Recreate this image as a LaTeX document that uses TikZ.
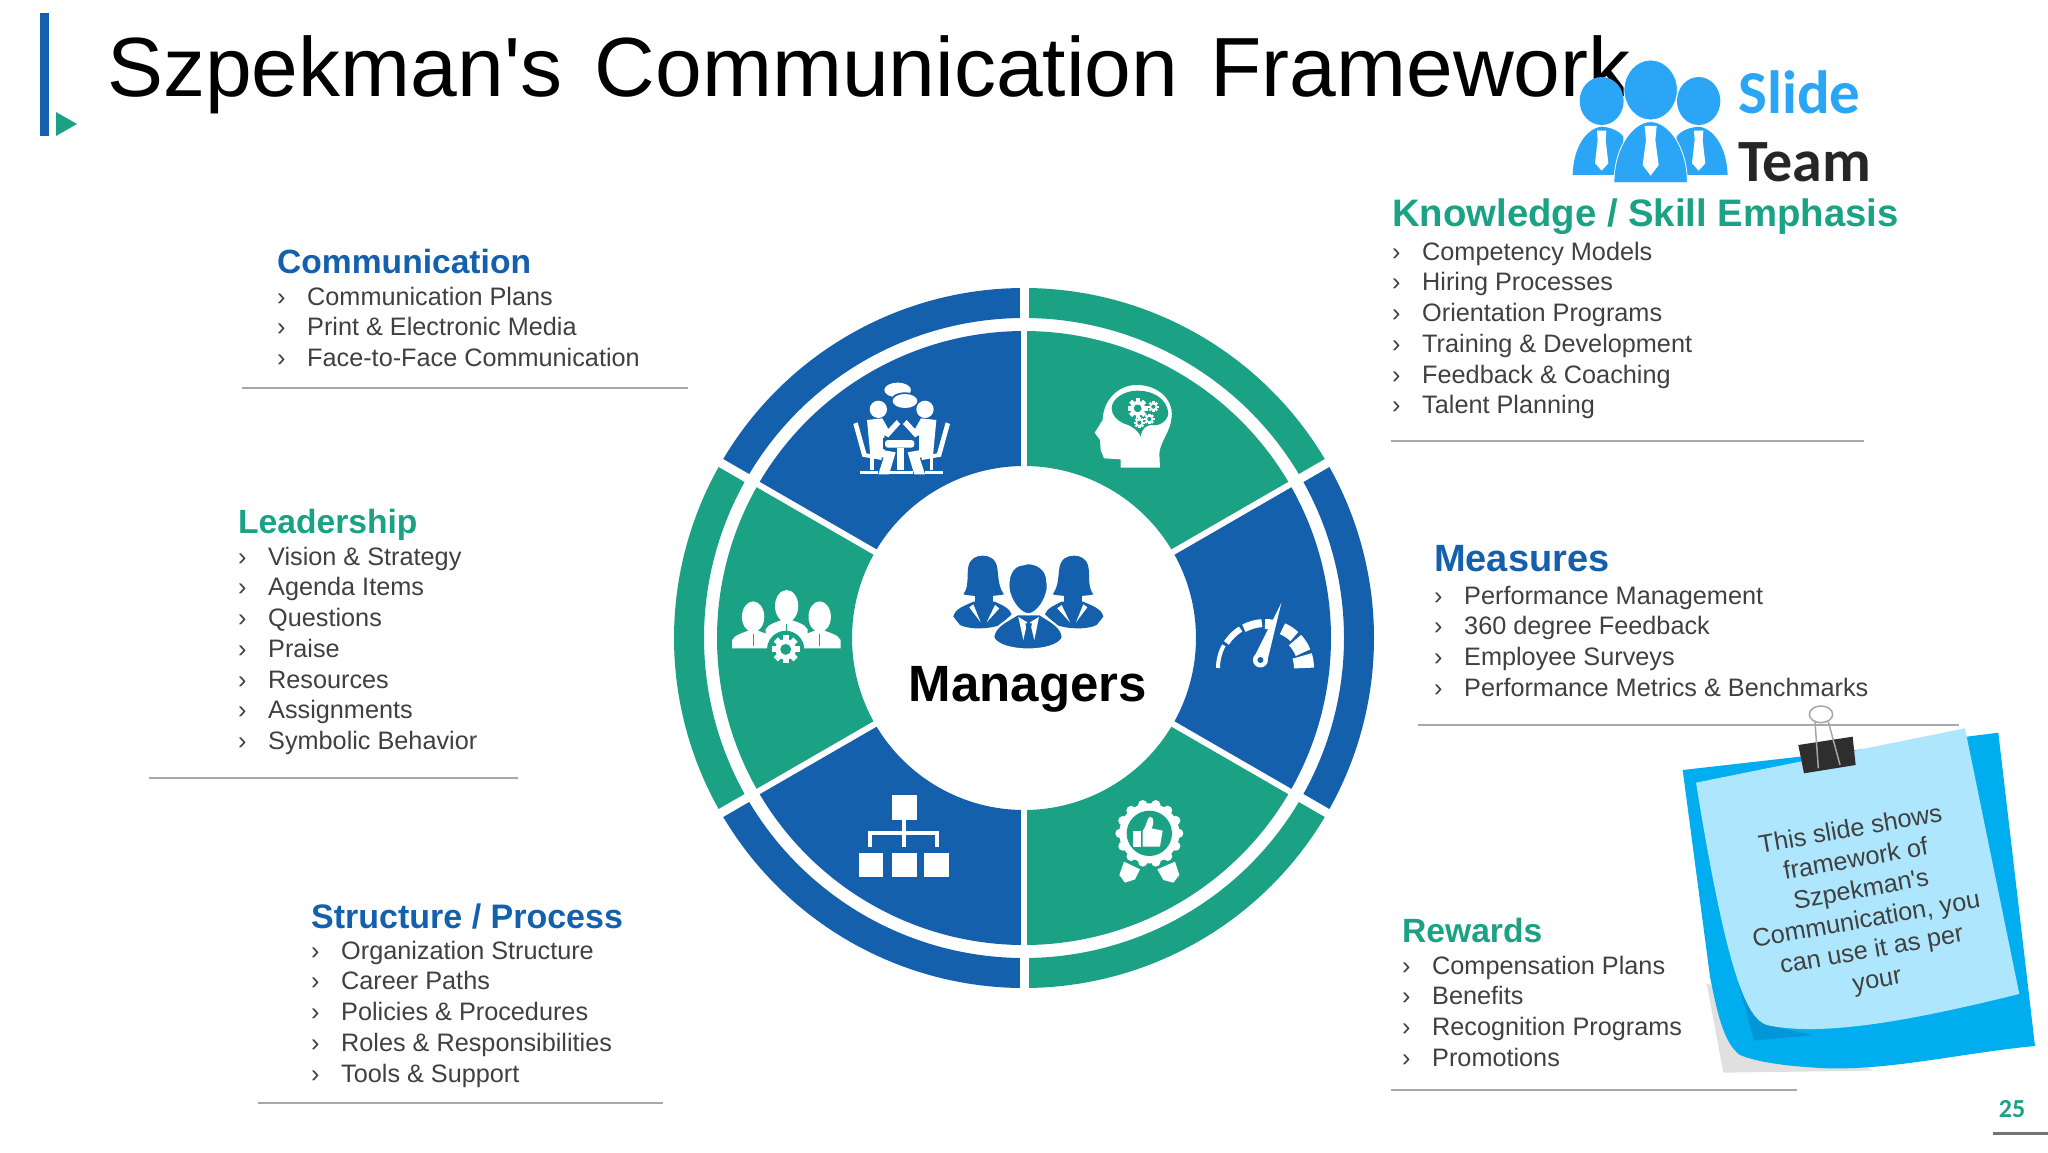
\documentclass[tikz,border=0pt]{standalone}
\usepackage{fontspec}
\setmainfont{Liberation Sans}
\newfontfamily\logofont{Carlito}
\usetikzlibrary{positioning}
\definecolor{brandblue}{HTML}{1560AC}
\definecolor{brandgreen}{HTML}{1BA284}
\definecolor{itemgrey}{HTML}{404040}
\definecolor{rulegrey}{HTML}{A8A8A8}
\definecolor{logoblue}{HTML}{2BA6F7}
\definecolor{noteback}{HTML}{00AEEF}
\definecolor{notesheet}{HTML}{AEE6FD}
\definecolor{notefold}{HTML}{0097D8}
\tikzset{
	blockhead/.style={anchor=base west,inner sep=0pt,font=\bfseries\fontsize{33.6}{40}\selectfont},
	itemlist/.style={anchor=north west,inner sep=0pt,align=left,text=itemgrey,font=\fontsize{25.25}{30.7}\selectfont},
	blockrule/.style={draw=rulegrey,line width=1.2pt},
	icongrid/.style n args={3}{shift={(#1,-#2)},x=#3pt,y=-#3pt}
}
\newcommand{\li}[1]{\rule{0pt}{20pt}\makebox[30pt][l]{›}#1}
\newcommand{\gearat}[5]{%
	\foreach \k in {0,45,...,315}{
		\fill[#4,shift={(#1,#2)},rotate=\k] ({-.25*#3},{.7*#3}) rectangle ({.25*#3},{1.15*#3});
	}
	\fill[#4] (#1,#2) circle ({.85*#3});
	\fill[#5] (#1,#2) circle ({.45*#3});
}
\newcommand{\sitter}{%
	\fill[white] (100,103) circle (26);
	\fill[white] (66,135) -- (112,130) -- (130,162) -- (155,135) -- (166,147) -- (130,187) -- (118,180) -- (118,226) -- (152,232) -- (132,298) -- (100,298) -- (116,248) -- (76,242) -- cycle;
	\fill[white] (25,147) -- (38,142) -- (64,235) -- (110,245) -- (110,255) -- (52,245) -- cycle;
	\fill[white] (76,250) rectangle (86,285);
	\fill[white] (45,288) rectangle (100,296);
}
\newcommand{\womanbust}{%
	\fill[brandblue] (70,148) .. controls (88,125) and (80,90) .. (85,65) .. controls (90,40) and (110,32) .. (128,32) .. controls (150,32) and (168,42) .. (172,70) .. controls (176,100) and (175,125) .. (192,148) .. controls (165,155) and (95,155) .. cycle;
	\fill[brandblue] (105,148) rectangle (158,175);
	\fill[brandblue] (40,215) .. controls (45,190) and (75,182) .. (100,170) -- (165,170) .. controls (185,180) and (210,190) .. (215,208) -- (180,240) .. controls (150,252) and (90,255) .. (60,240) -- cycle;
	\fill[white] (88,187) -- (100,178) -- (122,232) -- cycle;
	\fill[white] (165,180) -- (178,190) -- (140,232) -- cycle;
}
\newcommand{\teambust}[3]{%
	\fill[white] (#1,#2) ellipse (#3 and {#3*1.38});
	\fill[white] ({#1-45},{#2+68}) -- ({#1-45},{#2+50}) .. controls ({#1-40},{#2+38}) and ({#1-20},{#2+34}) .. (#1,{#2+26}) .. controls ({#1+20},{#2+34}) and ({#1+40},{#2+38}) .. ({#1+45},{#2+50}) -- ({#1+45},{#2+68}) -- cycle;
	\draw[brandgreen,line width=1.2pt] (#1,{#2+38}) -- (#1,{#2+62});
}
\begin{document}
\begin{tikzpicture}[x=1pt,y=1pt]
	\useasboundingbox (0,0) rectangle (2048,-1152);
	\fill[white] (0,0) rectangle (2048,-1152);
	% title bar
	\fill[brandblue] (40,-13) rectangle (49,-136);
	\fill[brandgreen] (56,-112) -- (77,-124) -- (56,-136) -- cycle;
	\node[anchor=base west,inner sep=0pt,font=\fontsize{84}{90}\selectfont] (title) at (107,-96) {Szpekman\textquotesingle s\hspace{9.5pt} Communication\hspace{9pt} Framework};
	% ring
	\begin{scope}[shift={(1024,-638)}]
		\foreach \a/\col in {90/brandblue,30/brandgreen,-30/brandblue,-90/brandgreen,-150/brandblue,150/brandgreen}{
			\fill[\col] (\a:350) arc (\a:\a+60:350) -- (\a+60:320) arc (\a+60:\a:320) -- cycle;
			\fill[\col] (\a:307) arc (\a:\a+60:307) -- (\a+60:172) arc (\a+60:\a:172) -- cycle;
		}
		\foreach \a in {30,90,...,330}{
			\draw[white,line width=9pt] (\a:314) -- (\a:356);
			\draw[white,line width=6pt] (\a:165) -- (\a:312);
		}
	\end{scope}
	% managers
	\begin{scope}[icongrid={940}{545}{0.3333}]
		\womanbust
		\begin{scope}[shift={(530,0)},xscale=-1]
			\womanbust
		\end{scope}
		\fill[brandblue,draw=white,line width=2pt] (160,278) .. controls (160,245) and (200,228) .. (232,208) -- (300,208) .. controls (330,228) and (368,245) .. (368,278) .. controls (350,325) and (180,325) .. cycle;
		\fill[brandblue,draw=white,line width=2pt] (207,140) .. controls (200,95) and (215,60) .. (250,58) .. controls (265,50) and (320,55) .. (322,110) .. controls (325,125) and (322,140) .. (320,145) .. controls (310,180) and (285,207) .. (265,208) .. controls (245,207) and (218,180) .. cycle;
		\fill[white] (235,216) -- (262,232) -- (250,285) -- cycle;
		\fill[white] (297,216) -- (270,232) -- (283,285) -- cycle;
		\fill[brandblue] (256,235) -- (276,235) -- (272,252) -- (280,285) -- (266,300) -- (252,285) -- (260,252) -- cycle;
	\end{scope}
	\node[anchor=base,inner sep=0pt,font=\bfseries\fontsize{51}{56}\selectfont] (managers) at (1028,-701) {Managers};
	% meeting
	\begin{scope}[icongrid={845}{375}{0.3333}]
		\fill[white] (158,45) ellipse (40 and 22);
		\fill[brandblue] (180,78) ellipse (44 and 26);
		\fill[white] (180,78) ellipse (37 and 21);
		\sitter
		\begin{scope}[shift={(340,0)},xscale=-1]
			\sitter
		\end{scope}
		\fill[brandblue] (115,190) rectangle (213,223);
		\fill[white,rounded corners=3pt] (120,195) rectangle (208,218);
		\fill[white] (155,218) rectangle (178,285);
		\fill[white] (130,288) rectangle (205,298);
	\end{scope}
	% head
	\begin{scope}[icongrid={1080}{370}{0.3333}]
		\fill[white] (122,293) -- (122,268) -- (72,265) -- (62,240) -- (60,210) -- (44,188) -- (68,150) .. controls (70,90) and (115,45) .. (170,45) .. controls (235,45) and (280,90) .. (275,140) .. controls (272,185) and (240,215) .. (238,250) -- (240,293) -- cycle;
		\fill[brandgreen] (95,115) .. controls (95,85) and (135,62) .. (170,62) .. controls (215,60) and (262,85) .. (265,130) .. controls (262,155) and (235,170) .. (215,165) .. controls (200,165) and (185,175) .. (182,200) .. controls (175,180) and (150,165) .. (130,160) .. controls (110,150) and (95,135) .. cycle;
		\gearat{173}{115}{26}{white}{brandgreen}
		\gearat{220}{110}{14}{white}{brandgreen}
		\gearat{208}{147}{14}{white}{brandgreen}
		\gearat{178}{158}{14}{white}{brandgreen}
	\end{scope}
	% gauge
	\begin{scope}[shift={(1265,-668)}]
		\foreach \a/\b/\w in {180/151/4,147/122/6,118/94/8,90/79/10,66/47/12,43/22/16,18/0/20}{
			\draw[white,line width=\w pt] (\a:{49-\w/2}) arc (\a:\b:{49-\w/2});
		}
		\fill[white] (16.3,65) -- (2,5.6) -- (-11.2,10.4) -- cycle;
		\fill[white] (-4.6,8) circle (7.5);
		\fill[brandblue] (-4.6,8) circle (3);
	\end{scope}
	% award
	\begin{scope}[icongrid={1100}{790}{0.3333}]
		\foreach \k in {0,25.7,...,340}{
			\fill[white] (148,130) ++(\k:88) circle (14);
		}
		\fill[white] (148,130) circle (90);
		\fill[brandgreen] (148,130) circle (68);
		\fill[white] (100,122) rectangle (124,170);
		\fill[white] (128,122) .. controls (140,110) and (140,85) .. (150,80) .. controls (165,82) and (160,105) .. (155,115) -- (188,122) -- (180,170) -- (128,170) -- cycle;
		\fill[white] (72,215) -- (120,238) -- (105,268) -- (75,278) -- (58,255) -- cycle;
		\fill[white] (225,215) -- (172,238) -- (190,270) -- (220,278) -- (238,255) -- cycle;
	\end{scope}
	% chart and team, in one grid
	\begin{scope}[icongrid={660}{270}{0.4655}]
		\fill[white] (498,1128) rectangle (552,1182);
		\foreach \x in {427,498,568}{
			\fill[white] (\x,1252) rectangle (\x+53,1305);
		}
		\draw[white,line width=4pt] (525,1182) -- (525,1240);
		\draw[white,line width=4pt] (452,1240) |- (596,1210) -- (596,1240);
		\teambust{200}{745}{24}
		\teambust{343}{745}{24}
		\teambust{272}{722}{25}
		\fill[brandgreen] (270,815) circle (40);
		\gearat{270}{815}{26}{white}{brandgreen}
	\end{scope}
	% headings and lists
	\node[blockhead,text=brandblue] (commhead) at (277,-273) {Communication};
	\node[itemlist] (commlist) at (277,-285) {\li{Communication Plans}\\\li{Print \& Electronic Media}\\\li{Face-to-Face Communication}};
	\draw[blockrule] (242,-388) -- (688,-388);
	\node[blockhead,text=brandgreen] (leadhead) at (238,-533) {Leadership};
	\node[itemlist] (leadlist) at (238,-545) {\li{Vision \& Strategy}\\\li{Agenda Items}\\\li{Questions}\\\li{Praise}\\\li{Resources}\\\li{Assignments}\\\li{Symbolic Behavior}};
	\draw[blockrule] (149,-778) -- (518,-778);
	\node[blockhead,text=brandblue,font=\bfseries\fontsize{34}{40}\selectfont] (structhead) at (311,-928) {Structure / Process};
	\node[itemlist] (structlist) at (311,-939) {\li{Organization Structure}\\\li{Career Paths}\\\li{Policies \& Procedures}\\\li{Roles \& Responsibilities}\\\li{Tools \& Support}};
	\draw[blockrule] (258,-1103) -- (663,-1103);
	\node[blockhead,text=brandgreen,font=\bfseries\fontsize{38.3}{44}\selectfont] (knowhead) at (1392,-226) {Knowledge / Skill Emphasis};
	\node[itemlist] (knowlist) at (1392,-240) {\li{Competency Models}\\\li{Hiring Processes}\\\li{Orientation Programs}\\\li{Training \& Development}\\\li{Feedback \& Coaching}\\\li{Talent Planning}};
	\draw[blockrule] (1391,-441) -- (1864,-441);
	\node[blockhead,text=brandblue,font=\bfseries\fontsize{38}{44}\selectfont] (meashead) at (1434,-571) {Measures};
	\node[itemlist] (measlist) at (1434,-584) {\li{Performance Management}\\\li{360 degree Feedback}\\\li{Employee Surveys}\\\li{Performance Metrics \& Benchmarks}};
	\draw[blockrule] (1418,-725) -- (1959,-725);
	\node[blockhead,text=brandgreen] (rewhead) at (1402,-942) {Rewards};
	\node[itemlist] (rewlist) at (1402,-954) {\li{Compensation Plans}\\\li{Benefits}\\\li{Recognition Programs}\\\li{Promotions}};
	\draw[blockrule] (1391,-1090) -- (1797,-1090);
	% note
	\begin{scope}[icongrid={1660}{690}{0.3333}]
		\fill[black!12] (140,880) -- (190,1148) -- (640,1142) -- (400,1000) -- cycle;
		\fill[noteback] (68,240) -- (420,200) -- (920,140) -- (1015,128) -- (1125,1068) .. controls (900,1090) and (700,1140) .. (500,1135) .. controls (400,1130) and (300,1120) .. (240,1095) .. controls (190,1060) and (170,960) .. (150,860) -- cycle;
		\fill[notefold] (235,880) -- (282,1052) -- (460,1035) -- (320,1005) -- cycle;
		\fill[notesheet] (108,278) -- (915,115) -- (1078,912) .. controls (800,980) and (500,1045) .. (320,1005) .. controls (260,985) and (200,850) .. cycle;
		\fill[black!82] (415,165) -- (578,140) -- (587,225) -- (432,250) -- cycle;
		\draw[black!35,line width=1.5pt] (465,95) -- (475,235);
		\draw[black!35,line width=1.5pt] (505,95) -- (540,225);
		\draw[black!35,line width=1.5pt] (483,73) ellipse (35 and 25);
		\node[align=center,rotate=10,inner sep=0pt,text=itemgrey,font=\fontsize{25.3}{30.6}\selectfont] (notetext) at (612,648) {This slide shows\\framework of\\Szpekman\textquotesingle s\\Communication, you\\can use it as per\\your};
	\end{scope}
	% page number
	\node[anchor=base,inner sep=0pt,text=brandgreen,font=\logofont\bfseries\fontsize{26}{30}\selectfont] (pagenum) at (2012,-1117) {25};
	\draw[black!55,line width=3pt] (1993,-1133) -- (2048,-1133);
	% logo
	\begin{scope}[icongrid={1540}{0}{0.3333}]
		\fill[logoblue] (185,303) ellipse (66 and 72);
		\fill[logoblue] (476,303) ellipse (65 and 72);
		\fill[logoblue] (98,525) .. controls (100,440) and (140,385) .. (185,380) .. controls (215,382) and (240,395) .. (250,410) -- (250,525) -- cycle;
		\fill[logoblue] (563,525) .. controls (560,440) and (520,385) .. (476,380) .. controls (445,382) and (420,395) .. (410,410) -- (410,525) -- cycle;
		\fill[white] (171,392) -- (199,392) -- (197,420) -- (205,490) -- (185,512) -- (165,490) -- (173,420) -- cycle;
		\fill[white] (462,392) -- (490,392) -- (488,420) -- (496,490) -- (476,512) -- (456,490) -- (464,420) -- cycle;
		\fill[logoblue,draw=white,line width=0.8pt] (332,270) ellipse (80 and 90);
		\fill[logoblue,draw=white,line width=0.8pt] (222,548) .. controls (222,440) and (280,365) .. (332,365) .. controls (385,365) and (442,440) .. (442,548) -- cycle;
		\fill[white] (314,378) -- (350,378) -- (346,420) -- (356,495) -- (332,527) -- (308,495) -- (318,420) -- cycle;
	\end{scope}
	\node[anchor=base west,inner sep=0pt,text=logoblue,font=\logofont\bfseries\fontsize{61}{66}\selectfont] (logoslide) at (1738,-113) {Slide};
	\node[anchor=base west,inner sep=0pt,text=black!85,font=\logofont\bfseries\fontsize{60}{66}\selectfont] (logoteam) at (1738,-181) {Team};
\end{tikzpicture}
\end{document}
